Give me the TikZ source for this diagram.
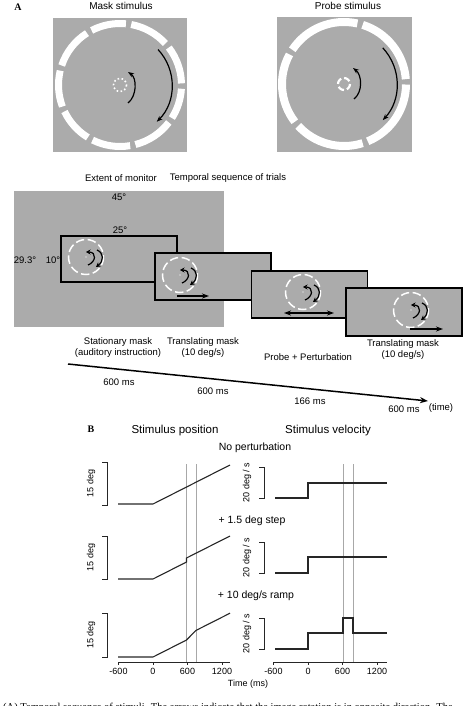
\documentclass[tikz,border=0pt]{standalone}
\usepackage{fontspec}
\setmainfont{Liberation Serif}
\setsansfont{Liberation Sans}
\usetikzlibrary{arrows.meta}
\definecolor{stimgray}{HTML}{ABABAB}
\definecolor{guidegray}{HTML}{A8A8A8}
\definecolor{dotgray}{HTML}{C8C8C8}
\begin{document}
\begin{tikzpicture}[x=1pt,y=-1pt,
  lab/.style={font=\sffamily\fontsize{9.5}{11}\selectfont, inner sep=0pt, align=center},
  stimtitle/.style={font=\sffamily\fontsize{10}{12}\selectfont, inner sep=0pt},
  btitle/.style={font=\sffamily\fontsize{11.5}{13}\selectfont, inner sep=0pt},
  ptitle/.style={font=\sffamily\fontsize{10.5}{12}\selectfont, inner sep=0pt},
  ticklab/.style={font=\sffamily\fontsize{9}{10}\selectfont, inner sep=0pt},
  panel/.style={font=\rmfamily\bfseries\fontsize{10}{12}\selectfont, inner sep=0pt},
  ringseg/.style={white, line width=7pt},
  rotarrow/.style={black, line width=1.2pt, -{Stealth[length=6pt,width=4.5pt]}},
  smallrot/.style={black, line width=1.2pt, -{Stealth[length=4.5pt,width=5pt]}},
  screen/.style={draw=black, line width=1.3pt, fill=stimgray, minimum width=116pt, minimum height=47pt, inner sep=0pt},
  dashring/.style={white, line width=1.5pt, dash pattern=on 8.5pt off 3.5pt},
  movearrow/.style={black, line width=1.2pt, -{Stealth[length=7pt,width=5pt]}},
  trace/.style={black!85, line width=1.1pt},
  guide/.style={guidegray, line width=0.6pt},
  scalebar/.style={black!85, line width=1pt},
  axisline/.style={black!85, line width=0.9pt}
]
\useasboundingbox (0,0) rectangle (474,706);
\clip (0,0) rectangle (474,706);

% ---------------- Part A: stimuli ----------------
\node[panel] (labA) at (18,7) {A};
\node[stimtitle] (tmask) at (121,6) {Mask stimulus};
\node[stimtitle] (tprobe) at (348,6) {Probe stimulus};

\node[fill=stimgray, minimum width=134pt, minimum height=134pt, inner sep=0pt] (maskbg) at (120,85) {};
\coordinate (mc) at (120,85);
\foreach \a/\b in {-122.5/-161.5, -84.5/-117.5, -42.5/-79.5, -1.5/-37.5, 32.5/3.5, 75.5/37.5, 116.5/80.5, 154.5/121.5, -166.5/-200.5}
  \draw[ringseg] (mc) ++(\a:61.5) arc[start angle=\a, end angle=\b, radius=61.5];
\draw[rotarrow] (mc) ++(-43:52) arc[start angle=-43, end angle=45, radius=52];
\draw[rotarrow] (128,103) .. controls (137,96) and (137,78) .. (128,72);
\draw[white, line width=1.6pt, dash pattern=on 1.6pt off 2.4pt] (mc) circle[radius=6.5];

\node[fill=stimgray, minimum width=135pt, minimum height=135pt, inner sep=0pt] (probebg) at (344.5,84.5) {};
\coordinate (pc) at (344,84);
\foreach \a/\b in {-77.5/-146.5, -151.5/-217.5, 137.5/72.5, 67.5/0.5, -4.5/-72.5}
  \draw[white, line width=8pt] (pc) ++(\a:62) arc[start angle=\a, end angle=\b, radius=62];
\draw[rotarrow] (pc) ++(-43:53) arc[start angle=-43, end angle=43, radius=53];
\draw[rotarrow] (354,99) .. controls (363,92) and (362,75) .. (353,68);
\draw[white, line width=2.2pt, dash pattern=on 6.4pt off 3pt] (pc) circle[radius=6];

% ---------------- Part A: temporal sequence ----------------
\node[lab] (textent) at (121,178) {Extent of monitor};
\node[lab] (tseq) at (228,178) {Temporal sequence of trials};
\node[fill=stimgray, minimum width=210pt, minimum height=136pt, inner sep=0pt] (monitor) at (119,259) {};
\node[lab] (d45) at (119,197) {45°};
\node[lab] (d25) at (120,230) {25°};
\node[lab] (d293) at (25,260) {29.3°};
\node[lab] (d10) at (53,260) {10°};

% screen 1
\node[screen, minimum height=46pt] (scr1) at (119,259) {};
\coordinate (c1) at (86,257);
\draw[dashring] (c1) circle[radius=17.5];
\fill[dotgray] (c1) circle[radius=1.2];
\draw[smallrot] (88,265) .. controls (96,262) and (97,252) .. (86,252);
\draw[smallrot] (97,250) .. controls (104,253) and (104,261) .. (96,267);

% screen 2
\node[screen] (scr2) at (213,276.5) {};
\coordinate (c2) at (180,275);
\draw[dashring] (c2) circle[radius=17.5];
\fill[dotgray] (c2) circle[radius=1.2];
\draw[smallrot] (182,283) .. controls (190,280) and (191,270) .. (180,270);
\draw[smallrot] (191,268) .. controls (198,271) and (198,279) .. (190,285);
\coordinate (m2a) at (177,296);
\coordinate (m2b) at (209,296);
\draw[movearrow] (m2a) -- (m2b);

% screen 3
\node[screen] (scr3) at (309.5,294.5) {};
\coordinate (c3) at (303,292);
\draw[dashring] (c3) circle[radius=17.5];
\fill[dotgray] (c3) circle[radius=1.2];
\draw[smallrot] (305,300) .. controls (313,297) and (314,287) .. (303,287);
\draw[smallrot] (314,285) .. controls (321,288) and (321,296) .. (313,302);
\coordinate (m3a) at (284,313);
\coordinate (m3b) at (334,313);
\draw[movearrow, {Stealth[length=7pt,width=5pt]}-{Stealth[length=7pt,width=5pt]}] (m3a) -- (m3b);

% screen 4
\node[screen, minimum height=48pt] (scr4) at (404,312) {};
\coordinate (c4) at (411,310);
\draw[dashring] (c4) circle[radius=17.5];
\fill[dotgray] (c4) circle[radius=1.2];
\draw[smallrot] (413,318) .. controls (421,315) and (422,305) .. (411,305);
\draw[smallrot] (422,303) .. controls (429,306) and (429,314) .. (421,320);
\coordinate (m4a) at (410,329);
\coordinate (m4b) at (443,329);
\draw[movearrow] (m4a) -- (m4b);

% labels under screens
\node[lab] (lstat) at (118,348) {Stationary mask\\(auditory instruction)};
\node[lab] (ltr1) at (203,348) {Translating mask\\(10 deg/s)};
\node[lab] (lprobe) at (308,357) {Probe + Perturbation};
\node[lab] (ltr2) at (403,350) {Translating mask\\(10 deg/s)};

% timeline
\coordinate (tl0) at (68,364);
\coordinate (tl1) at (428,401);
\draw[black, line width=1.5pt, -{Stealth[length=8pt,width=6pt]}] (tl0) -- (tl1);
\node[lab] (ms1) at (119,382) {600 ms};
\node[lab] (ms2) at (213,391) {600 ms};
\node[lab] (ms3) at (310,401) {166 ms};
\node[lab] (ms4) at (404,409) {600 ms};
\node[lab] (ltime) at (441,408) {(time)};

% ---------------- Part B ----------------
\node[panel] (labB) at (91,429) {B};
\node[btitle] (tpos) at (175,431) {Stimulus position};
\node[btitle] (tvel) at (328,431) {Stimulus velocity};
\node[ptitle] (tnone) at (255,448) {No perturbation};
\node[ptitle] (tstep) at (252,521) {+ 1.5 deg step};
\node[ptitle] (tramp) at (256,596) {+ 10 deg/s ramp};

% guide lines
\draw[guide] (186.5,464) -- (186.5,662);
\draw[guide] (196,464) -- (196,662);
\draw[guide] (343,464) -- (343,662);
\draw[guide] (353,464) -- (353,662);

% position scale bars
\foreach \ya/\yb/\ym in {462/505/483.5, 536/579/557.5, 613/657/635}{
  \draw[scalebar] (102,\ya) -- (107,\ya) -- (107,\yb) -- (102,\yb);
  \node[ticklab, rotate=90] at (91,\ym) {15 deg};
}
% velocity scale bars
\foreach \ya/\yb/\ym in {467/498/482.5, 542/573/557.5, 618/649/633.5}{
  \draw[scalebar] (259,\ya) -- (264,\ya) -- (264,\yb) -- (259,\yb);
  \node[ticklab, rotate=90] at (247,\ym) {20 deg / s};
}

% position traces
\draw[trace] (118,504) -- (153,504) -- (230,465);
\draw[trace] (118,579) -- (153,579) -- (186.5,562) -- (186.5,558) -- (230,536);
\draw[trace] (118,657) -- (153,657) -- (186.5,640) -- (196,630.4) -- (230,613.2);

% velocity traces
\draw[trace] (275,498) -- (308,498) -- (308,483) -- (387,483);
\draw[trace] (275,573) -- (308,573) -- (308,557) -- (387,557);
\draw[trace] (275,649) -- (308,649) -- (308,633) -- (343,633) -- (343,618) -- (353,618) -- (353,633) -- (387,633);

% axes
\draw[axisline] (118,662) -- (230,662);
\foreach \x in {118.5,153,187.5,222} \draw[axisline] (\x,662) -- (\x,665);
\node[ticklab] at (118.5,671) {-600};
\node[ticklab] at (153,671) {0};
\node[ticklab] at (187.5,671) {600};
\node[ticklab] at (222,671) {1200};

\draw[axisline] (274,662) -- (387,662);
\foreach \x in {273.5,308,342.5,377} \draw[axisline] (\x,662) -- (\x,665);
\node[ticklab] at (273.5,671) {-600};
\node[ticklab] at (308,671) {0};
\node[ticklab] at (342.5,671) {600};
\node[ticklab] at (377,671) {1200};
\node[ticklab] (xlab) at (248,684) {Time (ms)};

% caption (cut off at the bottom edge, as in the reference)
\node[anchor=base west, inner sep=0pt, font=\rmfamily\fontsize{10.5}{12}\selectfont] (caption) at (3,710.5)
  {(A) Temporal sequence of stimuli. The arrows indicate that the image rotation is in opposite direction. The};
\end{tikzpicture}
\end{document}
